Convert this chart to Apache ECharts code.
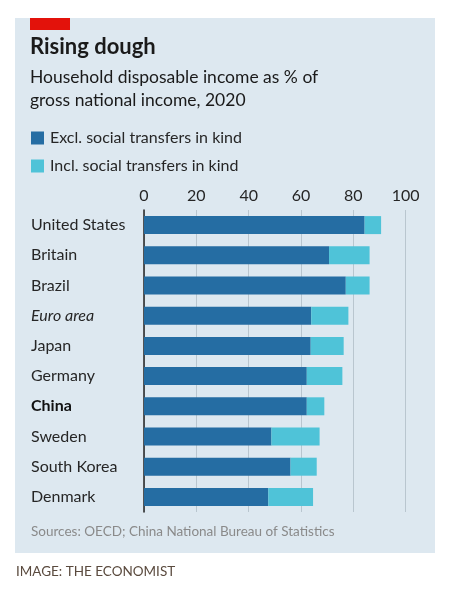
<!DOCTYPE html>
<html>
<head>
<meta charset="utf-8">
<script src="https://cdn.jsdelivr.net/npm/echarts@6/dist/echarts.min.js"></script>
<style>
html,body{margin:0;padding:0;background:#fff;}
#chart{width:449px;height:598px;}
</style>
</head>
<body>
<div id="chart"></div>
<script>
var categories = ["United States","Britain","Brazil","Euro area","Japan","Germany","China","Sweden","South Korea","Denmark"];
var exclTransfers = [84.3, 70.7, 77.1, 63.9, 63.7, 62.2, 62.2, 48.7, 56.0, 47.5];
var inclTransfers = [90.6, 86.2, 86.2, 78.1, 76.3, 75.8, 68.9, 67.1, 66.0, 64.6];
var xTicks = [0, 20, 40, 60, 80, 100];
var seriesNames = ["Excl. social transfers in kind", "Incl. social transfers in kind"];

var extra = inclTransfers.map(function(v, i){ return +(v - exclTransfers[i]).toFixed(1); });

var FONT = "Lato, 'Open Sans', sans-serif";
var chart = echarts.init(document.getElementById('chart'));
chart.setOption({
  backgroundColor: '#ffffff',
  animation: false,
  textStyle: { fontFamily: FONT },
  graphic: [
    { type: 'rect', left: 15, top: 18, shape: { width: 420, height: 535 }, style: { fill: '#dde8f0' }, z: -10 },
    { type: 'rect', left: 30, top: 18, shape: { width: 40, height: 12 }, style: { fill: '#e3120b' } },
    { type: 'text', left: 30, top: 36, style: { text: 'Rising dough', font: 'bold 22px ' + FONT, fill: '#1a1a1a' } },
    { type: 'text', left: 30, top: 66, style: { text: 'Household disposable income as % of\ngross national income, 2020', font: '17.5px ' + FONT, fill: '#1a1a1a', lineHeight: 23 } },
    { type: 'text', left: 31, top: 525, style: { text: 'Sources: OECD; China National Bureau of Statistics', font: '13.5px ' + FONT, fill: '#8a8a8a' } },
    { type: 'text', left: 16, top: 565, style: { text: 'IMAGE: THE ECONOMIST', font: '13.5px ' + FONT, fill: '#5a4a3e' } }
  ],
  legend: {
    orient: 'vertical',
    left: 26,
    top: 125,
    itemWidth: 13,
    itemHeight: 13,
    itemGap: 12,
    icon: 'rect',
    data: seriesNames,
    textStyle: { fontSize: 16, color: '#262626', fontFamily: FONT, padding: [0, 0, 0, 1] }
  },
  grid: { left: 144, right: 43.3, top: 210, bottom: 86 },
  xAxis: {
    type: 'value',
    position: 'top',
    min: xTicks[0],
    max: xTicks[xTicks.length - 1],
    interval: 20,
    axisLine: { show: false },
    axisTick: { show: false },
    axisLabel: { fontSize: 16, color: '#262626', margin: 6, fontFamily: FONT },
    splitLine: { show: true, lineStyle: { color: '#b9c6cf', width: 1 } }
  },
  yAxis: {
    type: 'category',
    data: categories,
    inverse: true,
    axisLine: { show: true, lineStyle: { color: '#222', width: 1.5 } },
    axisTick: { show: false },
    axisLabel: {
      align: 'left',
      margin: 113,
      fontSize: 16,
      color: '#262626',
      fontFamily: FONT,
      formatter: function(v){
        if (v === 'Euro area') return '{it|' + v + '}';
        if (v === 'China') return '{b|' + v + '}';
        return v;
      },
      rich: {
        it: { fontStyle: 'italic', fontSize: 16, color: '#262626', fontFamily: FONT },
        b: { fontWeight: 'bold', fontSize: 16, color: '#111', fontFamily: FONT }
      }
    }
  },
  series: [
    { name: seriesNames[0], type: 'bar', stack: 'a', data: exclTransfers, barWidth: 18, itemStyle: { color: '#256da3' }, z: 3 },
    { name: seriesNames[1], type: 'bar', stack: 'a', data: extra, barWidth: 18, itemStyle: { color: '#4fc3d8' }, z: 3 }
  ]
});
</script>
</body>
</html>
